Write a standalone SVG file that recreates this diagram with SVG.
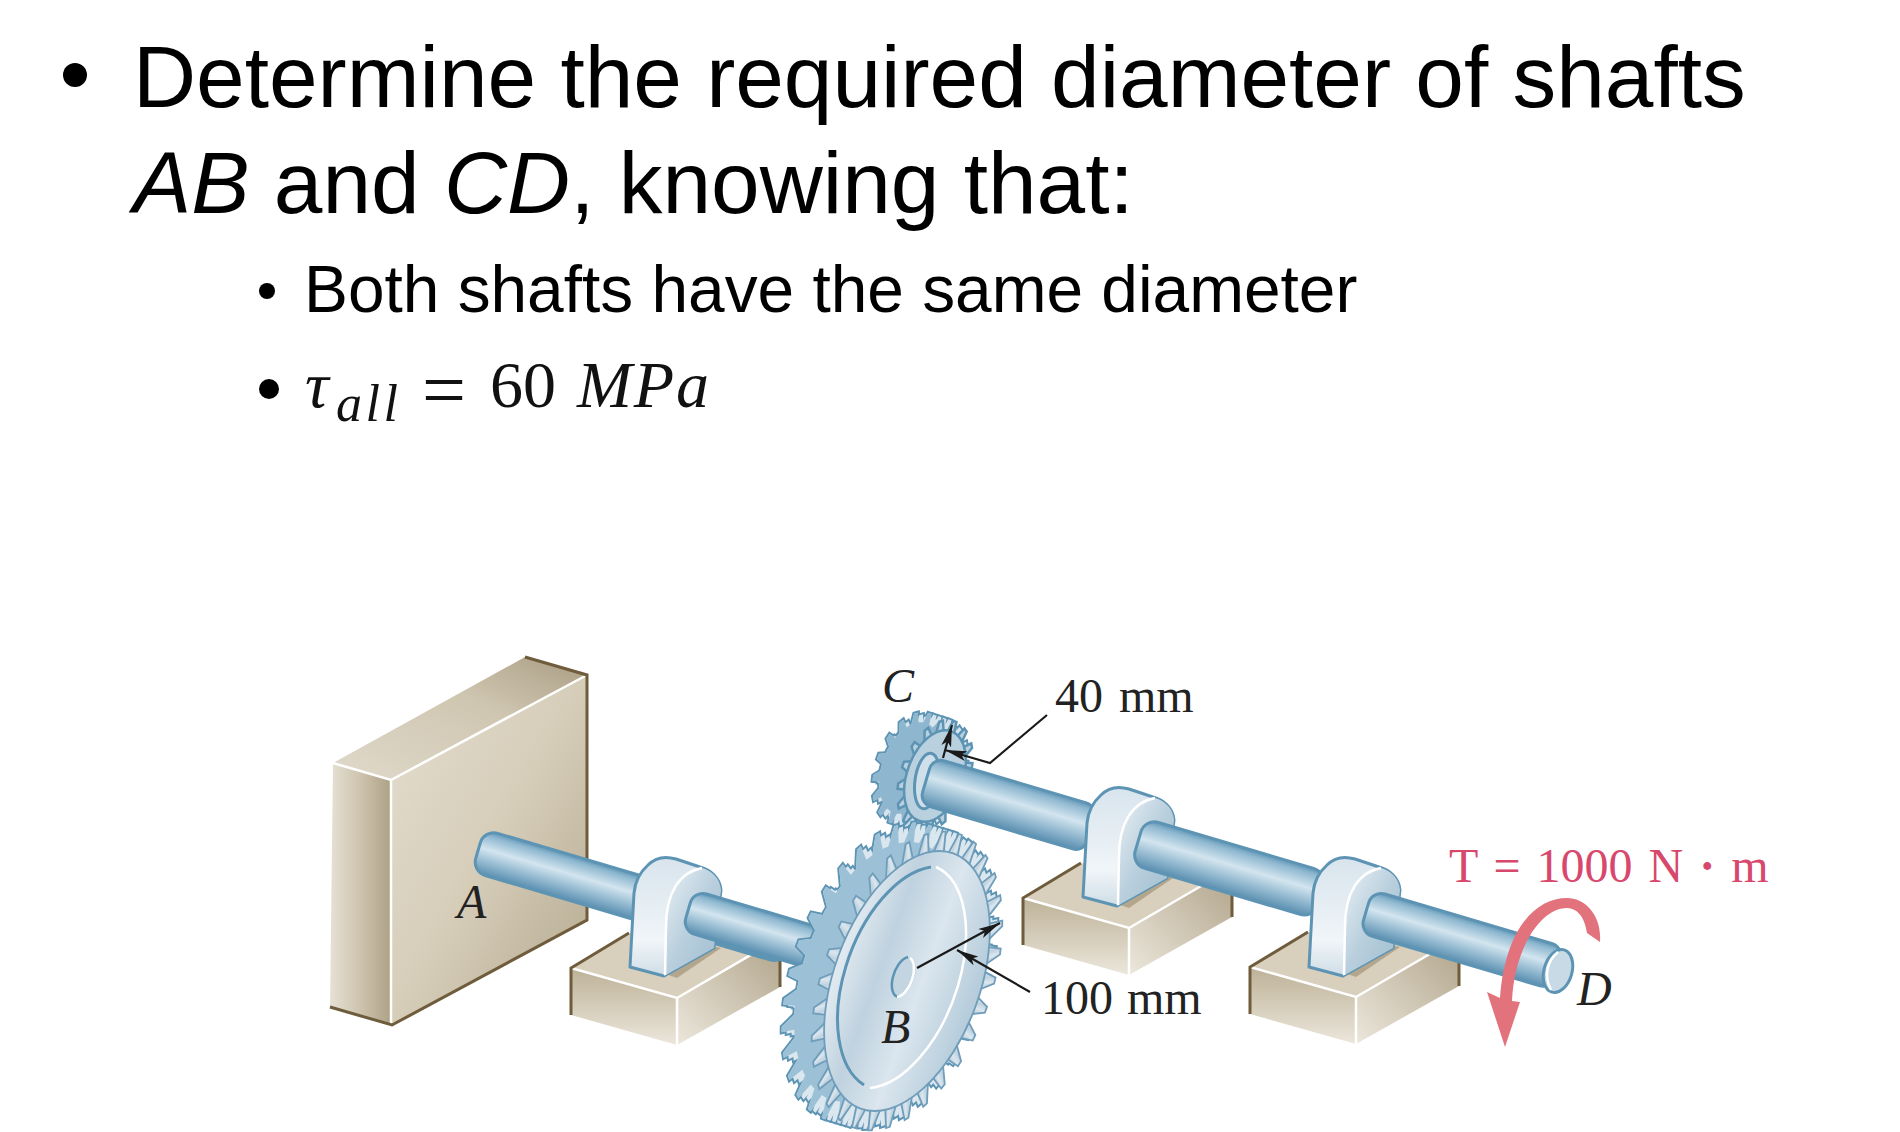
<svg xmlns="http://www.w3.org/2000/svg" width="1900" height="1132" viewBox="0 0 1900 1132">
<style>
.sans{font-family:"Liberation Sans",Arial,sans-serif;fill:#000}
.t1{font-size:87.4px}.t2{font-size:65.8px}
.m{font-family:"Liberation Serif","DejaVu Serif",serif;fill:#111;font-size:66px}
.i{font-style:italic}
.lab{font-family:"Liberation Serif",serif;fill:#222;font-size:48px}
.edge{stroke:#fff;stroke-width:2.5;fill:none}
.dk{stroke:#6e5c3c;stroke-width:3;fill:none}
.ns{vector-effect:non-scaling-stroke}
.dim{stroke:#1a1a1a;stroke-width:2.2;fill:none}
</style>
<defs>
<linearGradient id="sh" x1="0" y1="0" x2="0" y2="1"><stop offset="0" stop-color="#5f95b5"/><stop offset=".12" stop-color="#8fb8d0"/><stop offset=".42" stop-color="#d3e5ef"/><stop offset=".75" stop-color="#8db5cd"/><stop offset="1" stop-color="#5b8fb0"/></linearGradient>
<linearGradient id="wf" x1="0" y1="0" x2="1" y2="1"><stop offset="0" stop-color="#e4ded0"/><stop offset=".5" stop-color="#d6cdb9"/><stop offset="1" stop-color="#b3a78d"/></linearGradient>
<linearGradient id="wl" x1="0" y1="0" x2="1" y2="0"><stop offset="0" stop-color="#e6e1d4"/><stop offset=".5" stop-color="#cdc3ad"/><stop offset="1" stop-color="#aca084"/></linearGradient>
<linearGradient id="wt" x1="0" y1="1" x2="1" y2="0"><stop offset="0" stop-color="#e0d9ca"/><stop offset=".6" stop-color="#cfc6b1"/><stop offset="1" stop-color="#a99c82"/></linearGradient>
<linearGradient id="bf" x1="0" y1="0" x2="0" y2="1"><stop offset="0" stop-color="#bdb197"/><stop offset="1" stop-color="#ece7dc"/></linearGradient>
<linearGradient id="br" x1="0" y1="1" x2="1" y2="0"><stop offset="0" stop-color="#ece7dc"/><stop offset="1" stop-color="#b0a389"/></linearGradient>
<linearGradient id="be" x1="0" y1="0" x2="0" y2="1"><stop offset="0" stop-color="#d8e4ed"/><stop offset=".7" stop-color="#f0f5f8"/><stop offset="1" stop-color="#cfdde7"/></linearGradient>
<linearGradient id="bd" x1="0" y1="0" x2="1" y2="1"><stop offset="0" stop-color="#eaf1f5"/><stop offset=".5" stop-color="#b9cfdd"/><stop offset="1" stop-color="#9dbccf"/></linearGradient>
<linearGradient id="gf" x1="0" y1="0" x2="1" y2="0"><stop offset="0" stop-color="#e3ebf1"/><stop offset=".3" stop-color="#bfd2df"/><stop offset=".6" stop-color="#dbe6ee"/><stop offset="1" stop-color="#b4cbda"/></linearGradient>
<marker id="ah" viewBox="0 0 22 10" refX="22" refY="5" markerWidth="22" markerHeight="10" markerUnits="userSpaceOnUse" orient="auto"><path d="M0 0L22 5L0 10L5 5Z" fill="#1a1a1a"/></marker>
<polygon id="tb" class="ns" points="-6,-85 -2,-100 2,-100 6,-85"/>
<g id="q"><use href="#tb"/><use href="#tb" transform="rotate(11.25)"/><use href="#tb" transform="rotate(22.5)"/><use href="#tb" transform="rotate(33.75)"/><use href="#tb" transform="rotate(45)"/><use href="#tb" transform="rotate(56.25)"/><use href="#tb" transform="rotate(67.5)"/><use href="#tb" transform="rotate(78.75)"/></g>
<g id="big0"><use href="#q"/><use href="#q" transform="rotate(90)"/><use href="#q" transform="rotate(180)"/><use href="#q" transform="rotate(270)"/><circle class="ns" r="87"/></g>
<g id="big" transform="rotate(20) scale(.84,1.56)"><use href="#big0"/></g>
<g id="bigstack"><use href="#big" x="-30" y="-9"/><use href="#big" x="-25" y="-7.5"/><use href="#big" x="-20" y="-6"/><use href="#big" x="-15" y="-4.5"/><use href="#big" x="-10" y="-3"/><use href="#big" x="-5" y="-1.5"/></g>
<polygon id="ts" class="ns" points="-10,-80 -5,-100 5,-100 10,-80"/>
<g id="qs"><use href="#ts"/><use href="#ts" transform="rotate(22.5)"/><use href="#ts" transform="rotate(45)"/><use href="#ts" transform="rotate(67.5)"/></g>
<g id="small0"><use href="#qs"/><use href="#qs" transform="rotate(90)"/><use href="#qs" transform="rotate(180)"/><use href="#qs" transform="rotate(270)"/><circle class="ns" r="82"/></g>
<g id="small" transform="rotate(20) scale(.34,.58)"><use href="#small0"/></g>
<g id="smallstack"><use href="#small" x="-25" y="-8"/><use href="#small" x="-20" y="-6.4"/><use href="#small" x="-15" y="-4.8"/><use href="#small" x="-10" y="-3.2"/><use href="#small" x="-5" y="-1.6"/></g>
<g id="base"><polygon points="0,0 106,30 209,-30 103,-60" fill="#d8cfbc"/><polygon points="60,-6 106,10 150,-20 100,-30" fill="#b3a68c"/><polygon points="0,0 106,30 106,77 0,47" fill="url(#bf)"/><polygon points="106,30 209,-30 209,19 106,77" fill="url(#br)"/><path class="edge" d="M0 0L106 30L209 -30M106 30V77"/><path class="dk" d="M0 47V0L58 -35M209 -18V19"/></g>
<g id="bearing"><path d="M0 0L34 9L84 -19L91 -77C90 -90 80 -97 70 -100L46 -108C36 -111 26 -110 18 -102C9 -94 5 -84 4 -74Z" fill="url(#be)" stroke="#5d94b4" stroke-width="3" stroke-linejoin="round"/><path d="M34 9L84 -19L91 -77C90 -90 80 -97 72 -99C50 -95 36 -75 36 -40Z" fill="url(#bd)"/><path class="edge" d="M35 8L36 -40C36 -75 50 -95 72 -99"/></g>
</defs>
<rect width="1900" height="1132" fill="#fff"/>

<g id="text-block">
<circle cx="75" cy="75" r="12"/>
<text class="sans t1" x="133" y="107">Determine the required diameter of shafts</text>
<text class="sans t1" x="133" y="213"><tspan class="i">AB</tspan> and <tspan class="i">CD</tspan>, knowing that:</text>
<circle cx="267" cy="291" r="8"/>
<text class="sans t2" x="304" y="312">Both shafts have the same diameter</text>
<circle cx="269" cy="389" r="10"/>
<text class="m i" x="305" y="407">τ</text>
<text class="m i" x="336" y="421" style="font-size:52px" textLength="62" lengthAdjust="spacing">all</text>
<text class="m" x="422" y="416" style="font-size:78px">=</text>
<text class="m" x="490" y="407">60</text>
<text class="m i" x="577" y="407" textLength="132" lengthAdjust="spacing">MPa</text>
</g>

<g id="wall">
<polygon points="333,763 525,657 587,675 391,780" fill="url(#wt)"/>
<polygon points="333,763 391,780 392,1025 330,1007" fill="url(#wl)"/>
<polygon points="391,780 587,675 587,920 392,1025" fill="url(#wf)"/>
<path class="edge" d="M333 763L391 780L587 675M391 780V1025"/>
<path class="dk" d="M525 657L587 675V920L392 1025L330 1007"/>
</g>

<g id="base-1"><use href="#base" x="571" y="968"/></g>
<g id="base-2"><use href="#base" x="1023" y="898"/></g>
<g id="base-3"><use href="#base" x="1250" y="967"/></g>

<g id="shaft-ab-rear" transform="translate(480,851) rotate(16.5)"><rect x="-2" y="-22" width="325" height="44" rx="14" fill="url(#sh)" stroke="#5d94b4" stroke-width="3"/></g>
<g id="bearing-1"><use href="#bearing" x="630" y="967"/></g>
<g id="shaft-ab-front" transform="translate(690,911) rotate(16.5)"><rect x="-2" y="-21" width="140" height="42" rx="13" fill="url(#sh)" stroke="#5d94b4" stroke-width="3"/></g>

<g id="gear-c">
<g transform="translate(935,776)" stroke="#5d94b4" stroke-width="4" fill="#8fb6cf"><use href="#smallstack"/></g>
<g transform="translate(935,776)" fill="#d6e4ed"><use href="#smallstack"/></g>
<g transform="translate(910,768)" fill="#8fb6cf"><use href="#small"/></g>
<g transform="translate(935,776)" fill="#b9d0df" stroke="#5d94b4" stroke-width="2.5"><use href="#small"/></g>
<ellipse cx="927" cy="781" rx="12" ry="28" transform="rotate(8 927 781)" fill="#cfe0ea" stroke="#5d94b4" stroke-width="3"/>
</g>

<g id="gear-b">
<g transform="translate(907,981)" fill="#8fb6cf" stroke="#5d94b4" stroke-width="4"><use href="#bigstack"/></g>
<g transform="translate(907,981)" fill="#dbe7ef"><use href="#bigstack"/></g>
<g transform="translate(877,972)" fill="#9cc0d6"><use href="#big"/></g>
<g transform="translate(907,981)" fill="url(#gf)" stroke="#6f9dba" stroke-width="1.8"><use href="#big"/></g>
<path d="M864 1085A66 117 20 0 1 931 867" fill="none" stroke="#5d94b4" stroke-width="3"/>
<path class="edge" d="M936 867A64 117 20 0 1 870 1088"/>
<ellipse cx="903" cy="977" rx="11" ry="21" transform="rotate(20 903 977)" fill="#c2d5e1"/>
<path d="M899 997A11 21 20 0 1 908 957" fill="none" stroke="#5d94b4" stroke-width="2.5"/>
<path class="edge" d="M910 958A11 21 20 0 1 897 997"/>
</g>

<g id="shaft-cd-rear" transform="translate(928,781) rotate(16.5)"><rect x="-2" y="-24" width="172" height="48" rx="12" fill="url(#sh)" stroke="#5d94b4" stroke-width="3"/></g>
<g id="bearing-2"><use href="#bearing" x="1083" y="897"/></g>
<g id="shaft-cd-mid" transform="translate(1140,842) rotate(16.5)"><rect x="-2" y="-24" width="190" height="48" rx="14" fill="url(#sh)" stroke="#5d94b4" stroke-width="3"/></g>
<g id="bearing-3"><use href="#bearing" x="1309" y="967"/></g>
<g id="shaft-cd-end" transform="translate(1368,912) rotate(16.5)"><rect x="-2" y="-22" width="200" height="44" rx="13" fill="url(#sh)" stroke="#5d94b4" stroke-width="3"/>
</g>
<g id="shaft-end-d"><ellipse cx="1558" cy="971" rx="14" ry="22" transform="rotate(16 1558 971)" fill="#c7dae6" stroke="#5d94b4" stroke-width="3"/><path class="edge" d="M1551 990C1543 975 1548 960 1558 952"/></g>

<g id="connectors">
<path class="dim" d="M1047 715L990 763L945 750" marker-end="url(#ah)"/>
<path class="dim" d="M943 758L952 725" marker-end="url(#ah)"/>
<path class="dim" d="M917 968L1000 923" marker-end="url(#ah)"/>
<path class="dim" d="M1030 992L957 950" marker-end="url(#ah)"/>
</g>

<g id="moment"><path d="M1600 942C1602 915 1585 898 1567 898C1535 898 1505 930 1500 998L1487 992L1505 1047L1520 1002L1512 1001C1514 950 1540 908 1567 908C1580 909 1585 920 1587 933Z" fill="#e2727c"/></g>

<g id="labels">
<text class="lab i" x="882" y="702">C</text>
<text class="lab" x="1055" y="712" word-spacing="4">40 mm</text>
<text class="lab i" x="457" y="918">A</text>
<text class="lab i" x="881" y="1043">B</text>
<text class="lab" x="1041" y="1014" word-spacing="2">100 mm</text>
<text class="lab i" x="1577" y="1005">D</text>
<text class="lab" x="1449" y="882" style="fill:#d8476c" word-spacing="4">T = 1000 N <tspan font-weight="bold">·</tspan> m</text>
</g>
</svg>
